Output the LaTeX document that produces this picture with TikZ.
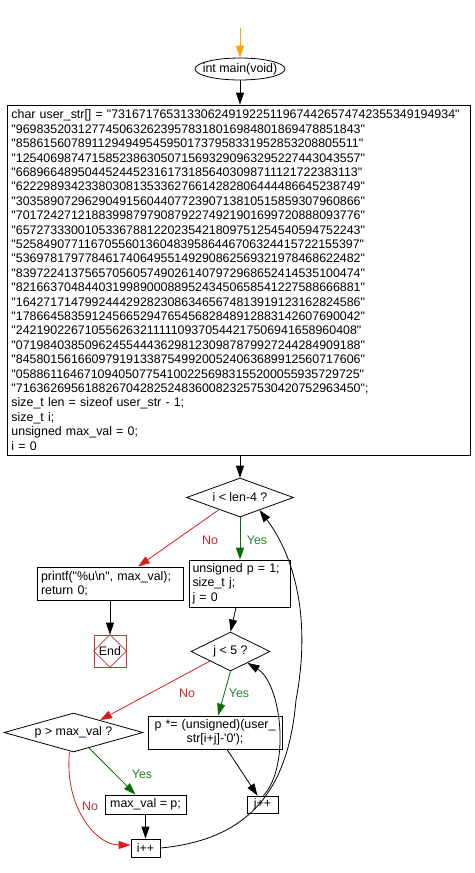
\documentclass[tikz,border=0pt]{standalone}
\usepackage{fontspec}
\newfontfamily\arialf{Liberation Sans}
\usetikzlibrary{shapes.geometric,arrows.meta,calc}
\definecolor{redline}{RGB}{220,30,30}
\definecolor{nolab}{RGB}{200,40,40}
\definecolor{greenline}{RGB}{0,110,0}
\definecolor{yeslab}{RGB}{40,130,40}
\definecolor{entryorange}{RGB}{255,165,0}
\definecolor{endred}{RGB}{200,50,50}
\begin{document}
\begin{tikzpicture}[x=1pt,y=-1pt,
  every node/.style={font=\arialf\fontsize{12.4}{14.4}\selectfont, inner sep=0pt},
  boxnode/.style={draw, line width=0.8pt, rectangle},
  decision/.style={draw, line width=0.8pt, diamond, inner sep=0pt},
  arr/.style={line width=0.8pt, -{Triangle[length=12pt,width=8pt]}},
  redarr/.style={arr, draw=redline},
  greenarr/.style={arr, draw=greenline},
  orangearr/.style={arr, draw=entryorange},
  nolabel/.style={text=nolab},
  yeslabel/.style={text=yeslab}]
\path[fill=white] (0,0) rectangle (474,873);
\useasboundingbox (0,0) rectangle (474,873);

\coordinate (entry) at (240,28);
\node[draw, line width=0.8pt, ellipse, minimum width=90, minimum height=22] (main) at (240,69) {\makebox[0pt]{int main(void)}};

\node[boxnode, minimum width=463, minimum height=350, text width=454, inner xsep=4.5pt, align=left] (init) at (238.5,280) {%
char user\_str[] = "73167176531330624919225119674426574742355349194934"\\
"96983520312774506326239578318016984801869478851843"\\
"85861560789112949495459501737958331952853208805511"\\
"12540698747158523863050715693290963295227443043557"\\
"66896648950445244523161731856403098711121722383113"\\
"62229893423380308135336276614282806444486645238749"\\
"30358907296290491560440772390713810515859307960866"\\
"70172427121883998797908792274921901699720888093776"\\
"65727333001053367881220235421809751254540594752243"\\
"52584907711670556013604839586446706324415722155397"\\
"53697817977846174064955149290862569321978468622482"\\
"83972241375657056057490261407972968652414535100474"\\
"82166370484403199890008895243450658541227588666881"\\
"16427171479924442928230863465674813919123162824586"\\
"17866458359124566529476545682848912883142607690042"\\
"24219022671055626321111109370544217506941658960408"\\
"07198403850962455444362981230987879927244284909188"\\
"84580156166097919133875499200524063689912560717606"\\
"05886116467109405077541002256983155200055935729725"\\
"71636269561882670428252483600823257530420752963450";\\
size\_t len = sizeof user\_str - 1;\\
size\_t i;\\
unsigned max\_val = 0;\\
i = 0};

\node[decision, minimum width=107, minimum height=39] (d1) at (240,497.5) {\makebox[0pt]{i < len-4 ?}};

\node[boxnode, minimum width=146, minimum height=33, text width=138, inner xsep=4pt, align=left] (printf) at (110,583.5) {printf("\%u\textbackslash n", max\_val);\\return 0;};

\node[boxnode, minimum width=101, minimum height=47, text width=95, inner xsep=3pt, align=left] (pbox) at (240,583.5) {unsigned p = 1;\\size\_t j;\\j = 0};

\node[draw=endred, line width=0.8pt, minimum size=32] (end) at (110,651) {End};
\draw[endred, line width=0.8pt] (end.north) -- (end.east) -- (end.south) -- (end.west) -- cycle;

\node[decision, minimum width=79, minimum height=39] (d2) at (230.5,651.5) {\makebox[0pt]{j < 5 ?}};

\node[decision, minimum width=139, minimum height=39] (d3) at (73.5,732.5) {\makebox[0pt]{p > max\_val ?}};

\node[boxnode, minimum width=134, minimum height=33, text width=128, inner xsep=3pt, align=center] (pmul) at (215,732.5) {p *= (unsigned)(user\_\\str[i+j]-'0');};

\node[boxnode, minimum width=81, minimum height=19] (maxval) at (145.5,804.5) {max\_val = p;};
\node[boxnode, minimum width=31, minimum height=17] (jpp) at (262.5,804.5) {j++};
\node[boxnode, minimum width=29, minimum height=18] (ipp) at (145.5,848) {i++};

% labels
\node[nolabel] (nod1) at (210,540) {No};
\node[yeslabel] (yesd1) at (257,540) {Yes};
\node[nolabel] (nod2) at (187,693) {No};
\node[yeslabel] (yesd2) at (239,693) {Yes};
\node[yeslabel] (yesd3) at (142,774) {Yes};
\node[nolabel] (nod3) at (90,806) {No};

% connectors
\draw[orangearr] (entry) -- (main);
\draw[arr] (main) -- (main |- init.north);
\draw[arr] (d1.north |- init.south) -- (d1.north);
\draw[redarr] (d1.-150) -- ($(printf.north)+(28,0)$);
\draw[greenarr] (d1.south) -- (pbox.north);
\draw[arr] (printf.south) -- (end.north);
\draw[arr] ($(pbox.south)+(-4,0)$) -- (d2.north);
\draw[redarr] (d2.205) -- (d3.25);
\draw[greenarr] (d2.south) -- ($(pmul.north)+(3,0)$);
\draw[arr] ($(pmul.south)+(12,0)$) -- ($(jpp.north)+(-5,0)$);
\draw[arr] ($(jpp.north)+(1,0)$) .. controls (291,765) and (281,683) .. (d2.-34);
\draw[greenarr] (d3.-45) -- ($(maxval.north)+(-10,0)$);
\draw[redarr] ($(d3.south)+(-4,0)$) .. controls (64,805) and (95,845) .. ($(ipp.west)+(0,-3)$);
\draw[arr] (maxval.south) -- (ipp.north);
\draw[arr] (ipp.east) .. controls (245,840) and (288,795) .. (296,700) .. controls (313,610) and (290,550) .. (d1.-33);
\end{tikzpicture}
\end{document}
